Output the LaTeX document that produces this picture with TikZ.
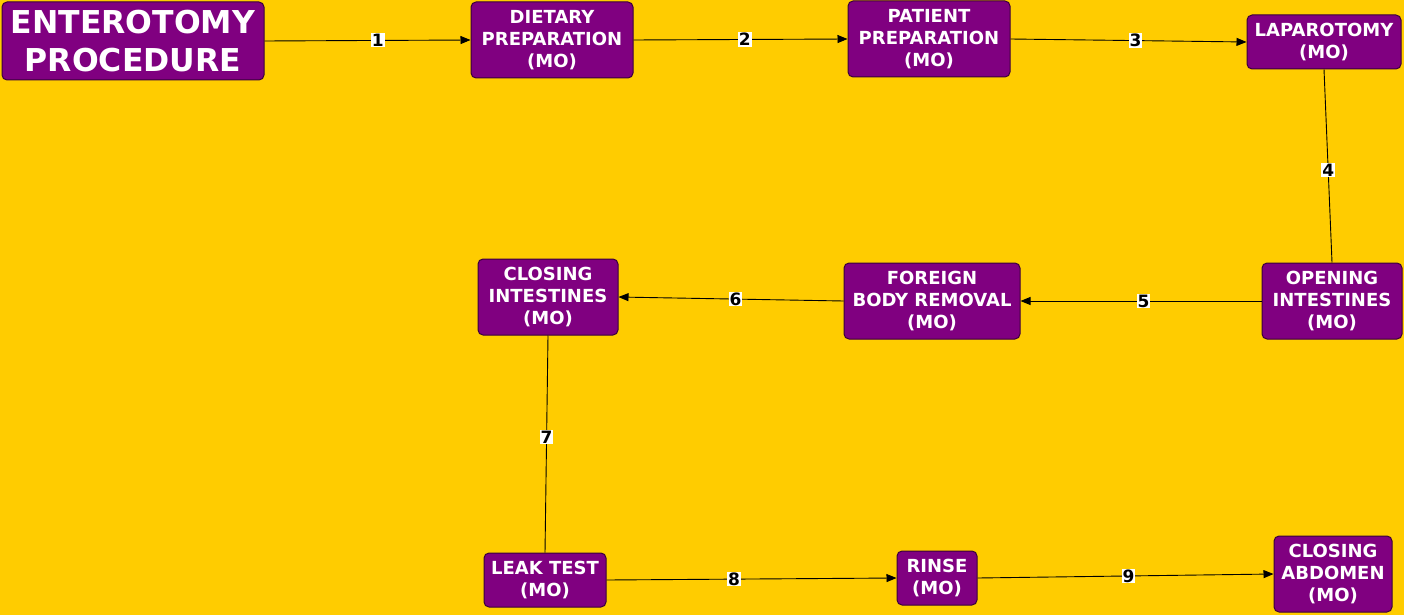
\documentclass[tikz,border=0pt]{standalone}
\usepackage{fontspec}
\setmainfont{DejaVu Sans}
\usetikzlibrary{arrows.meta}

\definecolor{bgyellow}{HTML}{FFCC00}
\definecolor{boxpurple}{HTML}{800080}
\definecolor{boxedge}{HTML}{3A003A}

\begin{document}
\begin{tikzpicture}[x=1pt, y=-1pt,
    step box/.style={fill=boxpurple, draw=boxedge, rounded corners=5pt, line width=1pt,
        text=white, font=\fontsize{18}{22}\selectfont\bfseries, align=center,
        inner sep=0pt},
    title box/.style={step box, font=\fontsize{31.5}{38}\selectfont\bfseries},
    flow/.style={draw=black, line width=0.9pt, -{Triangle[length=10pt, width=8pt]}},
    link/.style={draw=black, line width=0.9pt},
    num/.style={fill=white, text=black, inner sep=0.8pt,
        font=\fontsize{17}{17}\selectfont\bfseries}]
    \fill[bgyellow] (0,0) rectangle (1404,615);
    \useasboundingbox (0,0) rectangle (1404,615);
    % boxes
    \node[title box, minimum width=262pt, minimum height=78pt] (start) at (133,41) {ENTEROTOMY\\PROCEDURE};
    \node[step box, minimum width=162pt, minimum height=76pt] (diet) at (552,40) {DIETARY\\PREPARATION\\(MO)};
    \node[step box, minimum width=162pt, minimum height=76pt] (patient) at (929,39) {PATIENT\\PREPARATION\\(MO)};
    \node[step box, minimum width=154pt, minimum height=54pt] (lap) at (1324,42) {LAPAROTOMY\\(MO)};
    \node[step box, minimum width=140pt, minimum height=76pt] (open) at (1332,301) {OPENING\\INTESTINES\\(MO)};
    \node[step box, minimum width=176pt, minimum height=76pt] (foreign) at (932,301) {FOREIGN\\BODY REMOVAL\\(MO)};
    \node[step box, minimum width=140pt, minimum height=76pt] (closeint) at (548,297) {CLOSING\\INTESTINES\\(MO)};
    \node[step box, minimum width=122pt, minimum height=54pt] (leak) at (545,580) {LEAK TEST\\(MO)};
    \node[step box, minimum width=80pt, minimum height=54pt] (rinse) at (937,578) {RINSE\\(MO)};
    \node[step box, minimum width=118pt, minimum height=76pt] (closeab) at (1333,574) {CLOSING\\ABDOMEN\\(MO)};
    % connectors
    \draw[flow] (start.east) -- node[num, pos=0.55] {1} (diet.west);
    \draw[flow] (diet.east) -- node[num, pos=0.52] {2} (patient.west);
    \draw[flow] (patient.east) -- node[num, pos=0.53] {3} (lap.west);
    \draw[link] (lap.south) -- node[num, pos=0.52] {4} (open.north);
    \draw[flow] (open.west) -- node[num, pos=0.49] {5} (foreign.east);
    \draw[flow] (foreign.west) -- node[num, pos=0.48] {6} (closeint.east);
    \draw[link] (closeint.south) -- node[num, pos=0.47] {7} (leak.north);
    \draw[flow] (leak.east) -- node[num, pos=0.44] {8} (rinse.west);
    \draw[flow] (rinse.east) -- node[num, pos=0.51] {9} (closeab.west);
\end{tikzpicture}
\end{document}
